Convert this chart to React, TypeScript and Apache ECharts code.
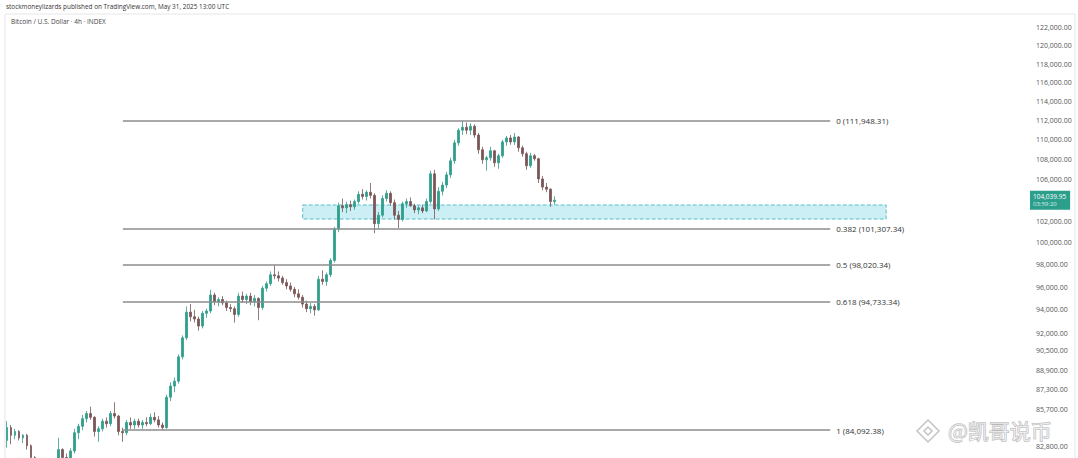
import React, { useEffect, useRef } from 'react';
import * as echarts from 'echarts';

// ---- Data ----
const opens = [
  83300, 84300, 83700, 84000, 83500, 83700, 82900, 82000, 81200, 80200,
  79700, 80100, 80600, 81300, 82600, 82000, 81800, 82500, 83900, 84400,
  85000, 85400, 85100, 84000, 84200, 84800, 84600, 85400, 85200, 84000,
  83900, 84700, 84500, 84800, 84500, 84700, 84600, 85100, 84900, 84500,
  84300, 86700, 87600, 88000, 90000, 91600, 93800, 93400, 93200, 92600,
  93700, 93900, 95300, 94700, 94900, 94600, 94200, 94100, 93600, 95200,
  94900, 95200, 94700, 95000, 94200, 95900, 96300, 97100, 97000, 96800,
  96400, 96100, 95800, 95400, 95100, 94500, 94100, 94300, 94000, 96700,
  96500, 97100, 98400, 101300, 103500, 103300, 103600, 103400, 103900, 104600,
  104400, 104800, 104500, 101800, 102600, 104200, 104700, 103800, 102600, 102200,
  103700, 103900, 103500, 103100, 103300, 103000, 103900, 106600, 103200, 104900,
  105500, 106500, 107900, 109700, 111000, 111300, 111000, 111400, 110500, 109000,
  108000, 108200, 108900, 107700, 108400, 109800, 110200, 109800, 110300, 109200,
  108600, 107400, 108400, 108100, 106100, 105300, 105100, 103900,
];
const highs = [
  84800, 84500, 84200, 84100, 83800, 83800, 83000, 82100, 81500, 80800,
  80400, 81000, 81500, 83500, 82700, 82300, 82700, 84200, 84600, 85300,
  85600, 85950, 85200, 84400, 85000, 85100, 85600, 86300, 85300, 84300,
  84900, 85100, 85000, 85000, 84900, 85100, 85400, 85500, 85200, 84700,
  86900, 87900, 88300, 90200, 91800, 94300, 94500, 94000, 93400, 93900,
  94100, 95750, 95500, 95100, 95200, 94800, 94500, 94300, 95500, 95600,
  95400, 95500, 95300, 95100, 96100, 96500, 97400, 98000, 97400, 97000,
  96700, 96400, 96000, 95800, 95300, 94800, 94600, 94500, 97000, 97500,
  97300, 98600, 101500, 103800, 104200, 103900, 104000, 104100, 104900, 105100,
  105000, 105700, 104700, 102900, 104500, 105000, 104900, 104100, 103000, 103900,
  104200, 104300, 103700, 103500, 103600, 104200, 106900, 107000, 105300, 105800,
  106800, 108200, 110000, 111200, 111948, 111800, 111700, 111600, 110700, 109300,
  108400, 109300, 109000, 108600, 110000, 110400, 110500, 110700, 110400, 109400,
  108800, 108700, 108600, 108200, 106400, 105700, 105200, 104400,
];
const lows = [
  82750, 83000, 83400, 83300, 83100, 82600, 81800, 80900, 79800, 79200,
  78800, 79600, 80200, 81000, 81700, 81400, 81500, 82300, 83400, 84100,
  84700, 84900, 83600, 83200, 84000, 84300, 84400, 85000, 83700, 83200,
  83700, 84200, 84200, 84300, 84200, 84400, 84500, 84700, 84300, 84100,
  84200, 86400, 87100, 87800, 89800, 91400, 93000, 92900, 92200, 92400,
  93300, 93700, 94400, 94300, 94400, 93900, 93800, 92900, 93400, 94600,
  94500, 94400, 94300, 93100, 94000, 95600, 96100, 96700, 96500, 96200,
  95800, 95600, 95100, 94900, 94200, 93800, 93700, 93500, 93900, 96200,
  96100, 96900, 98200, 101000, 102900, 102800, 103000, 103100, 103700, 104100,
  104000, 104200, 100900, 101300, 102400, 103900, 103500, 102200, 101400, 102000,
  103300, 103400, 102800, 102700, 102800, 102900, 103700, 102200, 103000, 104500,
  105200, 106200, 107600, 109400, 110500, 110600, 110500, 110200, 108600, 107600,
  106900, 107900, 107300, 107100, 108200, 109400, 109500, 109500, 108800, 108300,
  107000, 107200, 107900, 105700, 105000, 104800, 103400, 103600,
];
const closes = [
  84300, 83700, 84000, 83500, 83700, 82900, 82000, 81200, 80200, 79700,
  80100, 80600, 81300, 82600, 82000, 81800, 82500, 83900, 84400, 85000,
  85400, 85100, 84000, 84200, 84800, 84600, 85400, 85200, 84000, 83900,
  84700, 84500, 84800, 84500, 84700, 84600, 85100, 84900, 84500, 84300,
  86700, 87600, 88000, 90000, 91600, 93800, 93400, 93200, 92600, 93700,
  93900, 95300, 94700, 94900, 94600, 94200, 94100, 93600, 95200, 94900,
  95200, 94700, 95000, 94200, 95900, 96300, 97100, 97000, 96800, 96400,
  96100, 95800, 95400, 95100, 94500, 94100, 94300, 94000, 96700, 96500,
  97100, 98400, 101300, 103500, 103300, 103600, 103400, 103900, 104600, 104400,
  104800, 104500, 101800, 102600, 104200, 104700, 103800, 102600, 102200, 103700,
  103900, 103500, 103100, 103300, 103000, 103900, 106600, 103200, 104900, 105500,
  106500, 107900, 109700, 111000, 111300, 111000, 111400, 110500, 109000, 108000,
  108200, 108900, 107700, 108400, 109800, 110200, 109800, 110300, 109200, 108600,
  107400, 108400, 108100, 106100, 105300, 105100, 103900, 104039.95,
];

const fibLevels = ['0', '0.382', '0.5', '0.618', '1'];
const fibPrices = [111948.31, 101307.34, 98020.34, 94733.34, 84092.38];
const priceTicks = [
  122000, 120000, 118000, 116000, 114000, 112000, 110000, 108000, 106000,
  102000, 100000, 98000, 96000, 94000, 92000, 90500, 88900, 87300, 85700, 82800,
];
const zoneTop = 103575;
const zoneBottom = 102237;
const lastPrice = 104039.95;
const countdown = '03:59:20';
const slotCount = 256;
const fibStartSlot = 29;
const fibEndSlot = 206;
const zoneStartSlot = 74;
const zoneEndSlot = 220;

const headerText = 'stockmoneylizards published on TradingView.com, May 31, 2025 13:00 UTC';
const symbolText = 'Bitcoin / U.S. Dollar · 4h · INDEX';
const watermarkText = '@凯哥说币';

const categories = Array.from({ length: slotCount }, (_, i) => String(i));

const fmt = (v: number) =>
  v.toLocaleString('en-US', { minimumFractionDigits: 2, maximumFractionDigits: 2 });

const UP = '#2f9e8b';
const DOWN = '#7a5656';

export default function App() {
  const ref = useRef<HTMLDivElement>(null);

  useEffect(() => {
    if (!ref.current) return;
    const chart = echarts.init(ref.current, undefined, { renderer: 'svg' });

    const candleData = opens.map((o, i) => [o, closes[i], lows[i], highs[i]]);

    const fibLines: any[] = fibPrices.map((p, k) => [
      {
        coord: [categories[fibStartSlot], p],
        lineStyle: { color: '#8c8c8c', width: 1.5, type: 'solid' },
        label: {
          show: true,
          position: 'end',
          distance: 6,
          formatter: `${fibLevels[k]} (${fmt(p)})`,
          color: '#333',
          fontSize: 8,
          fontFamily: 'Open Sans',
        },
      },
      { coord: [categories[fibEndSlot], p] },
    ]);

    const priceLine = {
      yAxis: lastPrice,
      lineStyle: { color: 'rgba(0,0,0,0)', width: 0, opacity: 1 },
      label: {
        show: true,
        opacity: 1,
        position: 'end',
        distance: 2,
        formatter: `{a|${fmt(lastPrice)}}\n{b|${countdown}}`,
        backgroundColor: '#2b9e8c',
        padding: [2, 4, 2, 3],
        rich: {
          a: { color: '#fff', fontSize: 6.5, lineHeight: 8, fontFamily: 'Open Sans' },
          b: { color: '#d8f0ec', fontSize: 6, lineHeight: 7, fontFamily: 'Open Sans' },
        },
      },
    };

    chart.setOption({
      animation: false,
      backgroundColor: '#ffffff',
      grid: { left: 5, right: 50, top: 0, bottom: 0 },
      xAxis: {
        type: 'category',
        data: categories,
        show: false,
        boundaryGap: true,
      },
      yAxis: {
        type: 'log',
        logBase: 10,
        min: 81960,
        max: 125200,
        position: 'right',
        axisLine: { show: false },
        axisTick: { show: false },
        splitLine: { show: false },
        axisLabel: {
          customValues: priceTicks,
          formatter: (v: number) => fmt(v),
          fontSize: 7,
          color: '#555',
          margin: 8,
          fontFamily: 'Open Sans',
        },
      },
      series: [
        {
          type: 'candlestick',
          data: candleData,
          barWidth: 2.4,
          clip: false,
          itemStyle: {
            color: UP,
            color0: DOWN,
            borderColor: UP,
            borderColor0: DOWN,
            borderWidth: 0.8,
          },
          markArea: {
            silent: true,
            itemStyle: {
              color: 'rgba(140, 220, 232, 0.45)',
              borderColor: '#5cbfc6',
              borderWidth: 1,
              borderType: 'dashed',
            },
            data: [
              [
                { coord: [categories[zoneStartSlot], zoneTop] },
                { coord: [categories[zoneEndSlot], zoneBottom] },
              ],
            ],
          },
          markLine: {
            silent: true,
            symbol: ['none', 'none'],
            animation: false,
            data: [...fibLines, priceLine],
          },
        },
      ],
      graphic: [
        {
          type: 'rect',
          shape: { x: 5, y: 14, width: 1070, height: 450 },
          style: { fill: 'none', stroke: '#e6e6e6', lineWidth: 1 },
          silent: true,
          z: -1,
        },
        {
          type: 'text',
          x: 6,
          y: 3,
          style: { text: headerText, fontSize: 6.4, fontFamily: 'Open Sans', fill: '#333' },
        },
        {
          type: 'text',
          x: 11,
          y: 18,
          style: { text: symbolText, fontSize: 6.5, fontFamily: 'Open Sans', fill: '#444' },
        },
        {
          type: 'group',
          x: 928,
          y: 431,
          silent: true,
          children: [
            {
              type: 'polygon',
              shape: { points: [[0, -11], [11, 0], [0, 11], [-11, 0]] },
              style: { fill: 'none', stroke: '#c4c4c4', lineWidth: 1.5 },
            },
            {
              type: 'polygon',
              shape: { points: [[0, -4], [4, 0], [0, 4], [-4, 0]] },
              style: { fill: 'none', stroke: '#c4c4c4', lineWidth: 1.5 },
            },
          ],
        },
        {
          type: 'text',
          x: 948,
          y: 419,
          silent: true,
          style: {
            text: watermarkText,
            fontSize: 21,
            fontFamily: 'Noto Sans CJK SC',
            fill: 'rgba(255,255,255,0.55)',
            stroke: '#b8b8b8',
            lineWidth: 1,
          },
        },
      ],
    });

    return () => chart.dispose();
  }, []);

  return (
    <div
      ref={ref}
      style={{ position: 'absolute', left: 0, top: 0, width: 1078, height: 458, background: '#fff' }}
    />
  );
}
